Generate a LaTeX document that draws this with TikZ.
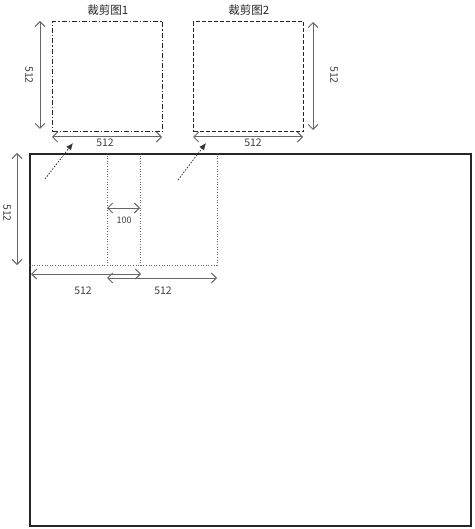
\documentclass[tikz,border=0pt]{standalone}
\usepackage{fontspec}
\newfontfamily\cjk{Noto Sans CJK SC}
\usetikzlibrary{arrows.meta, positioning, calc}

\begin{document}
\begin{tikzpicture}[%
    x=1pt, y=-1pt,
    every node/.style={%
      font=\cjk\fontsize{10.5}{12}\selectfont,
      text=black!75,
      inner sep=0pt
    },
    cropone/.style={draw=black!85, line width=1.4pt,
      dash pattern=on 5pt off 2pt on 1.2pt off 2pt, minimum width=110pt, minimum height=110pt},
    croptwo/.style={draw=black!85, line width=1.4pt,
      dash pattern=on 4pt off 2pt, minimum width=110pt, minimum height=110pt},
    dim/.style={draw=black!60, line width=1pt,
      {Straight Barb[length=5pt,width=10pt]}-{Straight Barb[length=5pt,width=10pt]}},
    window/.style={draw=black!60, line width=0.8pt, dash pattern=on 1pt off 1.6pt},
    pointer/.style={draw=black!80, line width=0.8pt, dash pattern=on 1.5pt off 1.5pt,
      -{Latex[length=7pt,width=6pt]}}
  ]
  \useasboundingbox (0,0) rectangle (474,529);

  % Crops
  \node[cropone, anchor=north west] (crop1) at (52,21) {};
  \node[croptwo, anchor=north west] (crop2) at (193,21) {};
  \node[font=\cjk\fontsize{11.5}{13}\selectfont, text=black!85, above=5pt of crop1] (t1) {裁剪图1};
  \node[font=\cjk\fontsize{11.5}{13}\selectfont, text=black!85, above=5pt of crop2] (t2) {裁剪图2};

  % Image
  \node[draw=black!85, line width=1.6pt, minimum width=441pt, minimum height=372pt,
    anchor=north west] (img) at (29,153) {};

  % Crop windows
  \coordinate (w1t) at (140,153);
  \coordinate (w1b) at (140,265);
  \coordinate (w2t) at (107,153);
  \coordinate (w2b) at (107,265);
  \coordinate (w3t) at (217,153);
  \coordinate (w3b) at (217,265);
  \coordinate (w0b) at (29,265);
  \draw[window] (w1t) -- (w1b);
  \draw[window] (w2t) -- (w2b);
  \draw[window] (w3t) -- (w3b) -- (w0b);

  % Dimensions of crop 1
  \coordinate (d1a) at (40,21);
  \coordinate (d1b) at (40,129);
  \draw[dim] (d1a) -- (d1b);
  \node[rotate=-90] (n1) at (29,75) {512};
  \coordinate (d2a) at (52,137);
  \coordinate (d2b) at (162,137);
  \draw[dim] (d2a) -- (d2b);
  \node (n2) at (105,143) {512};

  % Dimensions of crop 2
  \coordinate (d3a) at (313,22);
  \coordinate (d3b) at (313,130);
  \draw[dim] (d3a) -- (d3b);
  \node[rotate=-90] (n3) at (334,75) {512};
  \coordinate (d4a) at (193,137);
  \coordinate (d4b) at (303,137);
  \draw[dim] (d4a) -- (d4b);
  \node (n4) at (253,143) {512};

  % Dimensions on the image
  \coordinate (d5a) at (17,153);
  \coordinate (d5b) at (17,265);
  \draw[dim] (d5a) -- (d5b);
  \node[rotate=-90] (n5) at (7,213) {512};
  \coordinate (d6a) at (107,208);
  \coordinate (d6b) at (140,208);
  \draw[dim] (d6a) -- (d6b);
  \node[font=\cjk\fontsize{9}{10}\selectfont] (n6) at (124,220) {100};
  \coordinate (d7a) at (31,274);
  \coordinate (d7b) at (141,274);
  \draw[dim] (d7a) -- (d7b);
  \node (n7) at (83,291) {512};
  \coordinate (d8a) at (107,278);
  \coordinate (d8b) at (217,278);
  \draw[dim] (d8a) -- (d8b);
  \node (n8) at (163,291) {512};

  % Pointers
  \coordinate (p1) at (45,179);
  \coordinate (q1) at (73,143);
  \draw[pointer] (p1) -- (q1);
  \coordinate (p2) at (178,180);
  \coordinate (q2) at (206,143);
  \draw[pointer] (p2) -- (q2);

\end{tikzpicture}
\end{document}
